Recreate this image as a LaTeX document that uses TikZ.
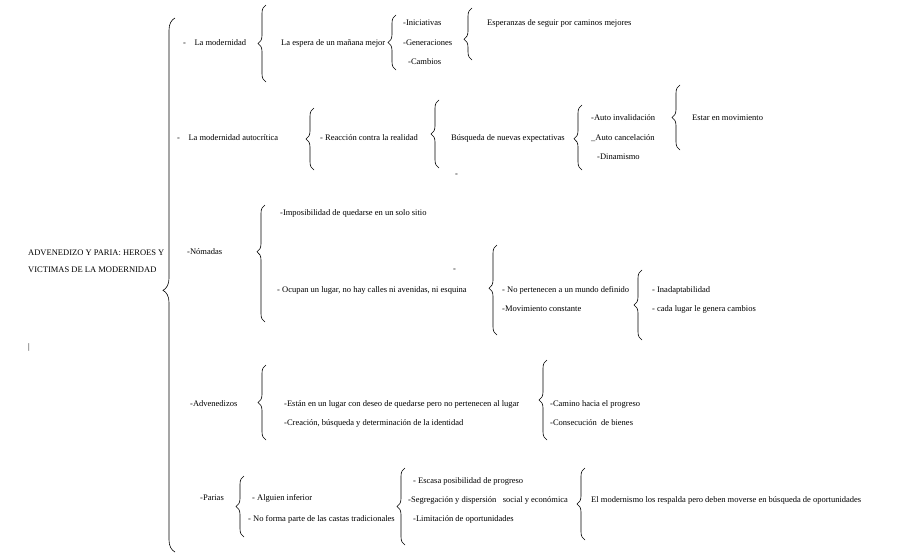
\documentclass[tikz,border=0pt]{standalone}
\usepackage{fontspec}
\setmainfont{Liberation Serif}
\usetikzlibrary{decorations.pathreplacing}
\begin{document}
\begin{tikzpicture}[x=1pt,y=-1pt,
  br/.style={decorate,decoration={brace,amplitude=8pt},line width=0.6pt},
  t/.style={anchor=west,inner sep=0pt,font=\fontsize{8.5}{9}\selectfont}]
\useasboundingbox[fill=white] (0,0) rectangle (897,555);
% root
\node[t] (r1) at (28,253) {ADVENEDIZO Y PARIA: HEROES Y};
\node[t] (r2) at (28,270) {VICTIMAS DE LA MODERNIDAD};
\node[t] (bar) at (28,347) {|};
\draw[br,decoration={aspect=0.49,amplitude=12pt}] (175,552) -- (175,18);
% modernidad
\node[t] (a) at (183,43) {-\quad La modernidad};
\draw[br] (266,82) -- (266,5);
\node[t] (a1) at (281,43) {La espera de un mañana mejor};
\draw[br] (396,70) -- (396,15);
\node[t] (a2) at (403,23) {-Iniciativas};
\node[t] (a3) at (403,43) {-Generaciones};
\node[t] (a4) at (408,62) {-Cambios};
\draw[br,decoration={aspect=0.4}] (472,60) -- (472,8);
\node[t] (a5) at (487,23) {Esperanzas de seguir por caminos mejores};
% autocritica
\node[t] (b) at (177,138) {-\quad La modernidad autocrítica};
\draw[br] (314,170) -- (314,108);
\node[t] (b1) at (320,138) {- Reacción contra la realidad};
\draw[br] (439,168) -- (439,100);
\node[t] (b2) at (451,138) {Búsqueda de nuevas expectativas};
\node[t] (bd) at (455,175) {-};
\draw[br,decoration={aspect=0.48}] (582,170) -- (582,105);
\node[t] (b3) at (591,118) {-Auto invalidación};
\node[t] (b4) at (591,138) {\_Auto cancelación};
\node[t] (b5) at (597,157) {-Dinamismo};
\draw[br] (680,150) -- (680,85);
\node[t] (b6) at (692,118) {Estar en movimiento};
% nomadas
\node[t] (c) at (187,252) {-Nómadas};
\draw[br,decoration={aspect=0.6}] (265,322) -- (265,205);
\node[t] (c1) at (280,213) {-Imposibilidad de quedarse en un solo sitio};
\node[t] (c2) at (277,290) {- Ocupan un lugar, no hay calles ni avenidas, ni esquina};
\node[t] (cd) at (453,270) {-};
\draw[br,decoration={aspect=0.52}] (497,335) -- (497,245);
\node[t] (c3) at (502,290) {- No pertenecen a un mundo definido};
\node[t] (c4) at (502,309) {-Movimiento constante};
\draw[br] (642,340) -- (642,270);
\node[t] (c5) at (652,290) {- Inadaptabilidad};
\node[t] (c6) at (652,309) {- cada lugar le genera cambios};
% advenedizos
\node[t] (d) at (190,404) {-Advenedizos};
\draw[br] (266,440) -- (266,365);
\node[t] (d1) at (284,404) {-Están en un lugar con deseo de quedarse pero no pertenecen al lugar};
\node[t] (d2) at (284,423) {-Creación, búsqueda y determinación de la identidad};
\draw[br] (547,440) -- (547,360);
\node[t] (d3) at (550,404) {-Camino hacia el progreso};
\node[t] (d4) at (550,423) {-Consecución\ \ de bienes};
% parias
\node[t] (e) at (200,498) {-Parias};
\draw[br] (244,537) -- (244,476);
\node[t] (e1) at (252,498) {- Alguien inferior};
\node[t] (e2) at (248,519) {- No forma parte de las castas tradicionales};
\draw[br] (405,545) -- (405,468);
\node[t] (e3) at (413,481) {- Escasa posibilidad de progreso};
\node[t] (e4) at (408,500) {-Segregación y dispersión\ \ \ social y económica};
\node[t] (e5) at (413,519) {-Limitación de oportunidades};
\draw[br] (585,540) -- (585,468);
\node[t] (e6) at (591,500) {El modernismo los respalda pero deben moverse en búsqueda de oportunidades};
\end{tikzpicture}
\end{document}
